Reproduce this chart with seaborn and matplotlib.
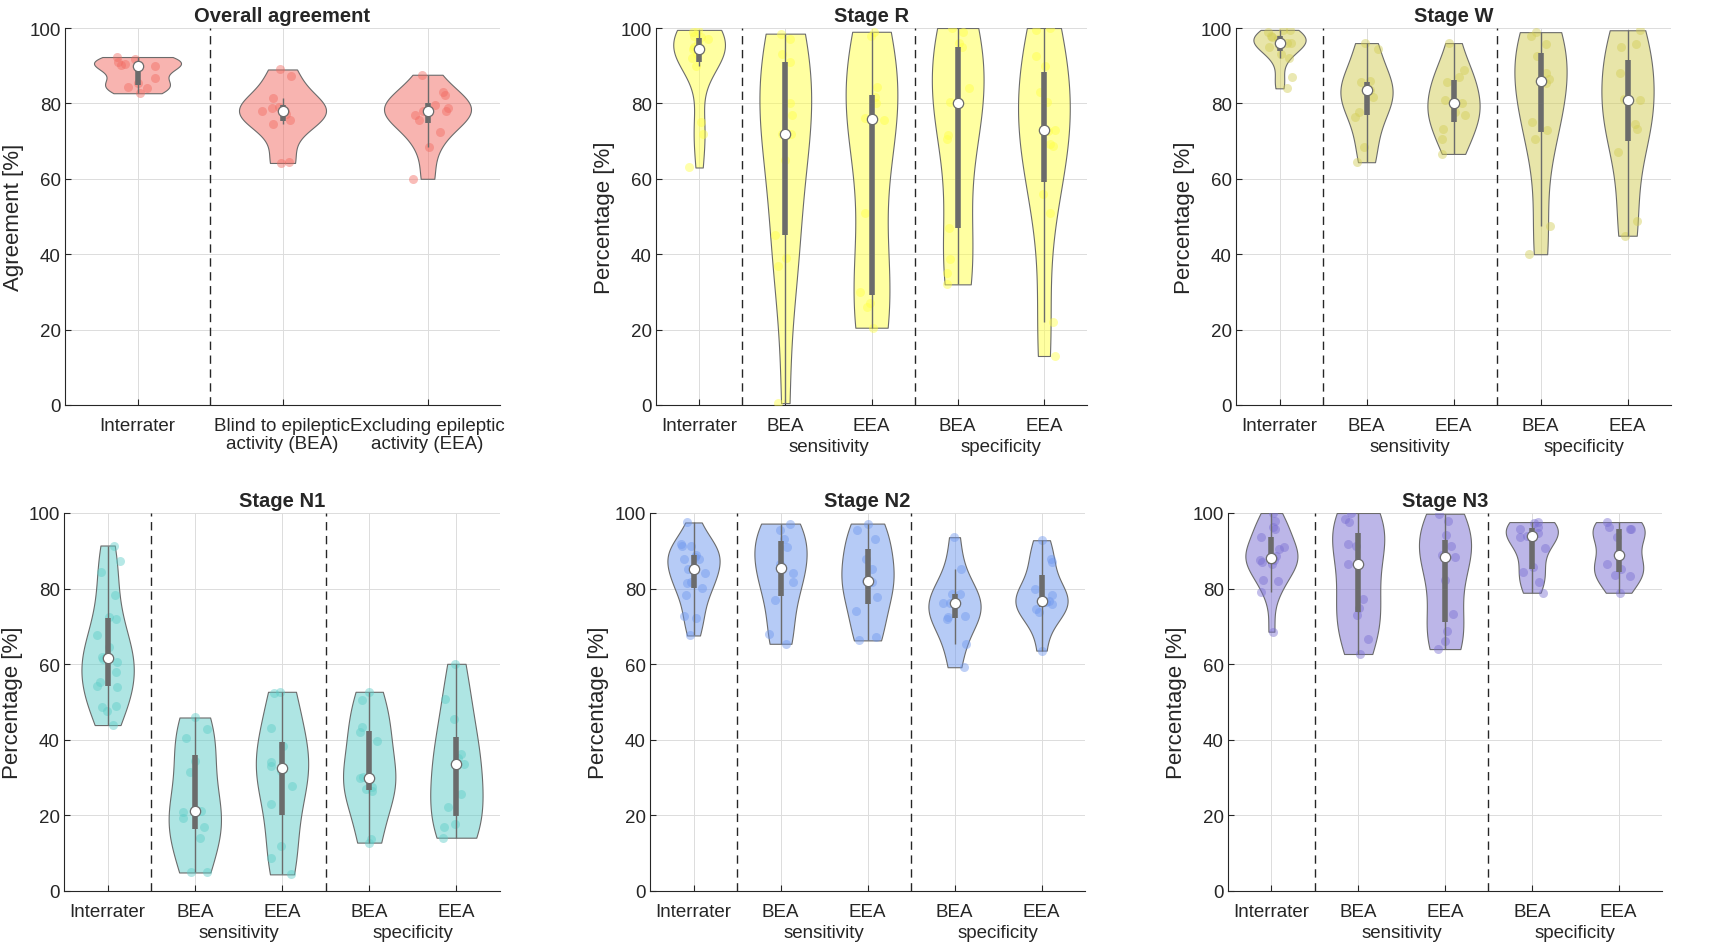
import matplotlib
matplotlib.use('Agg')
import matplotlib.pyplot as plt
import numpy as np
import pandas as pd
import seaborn as sns
from matplotlib.colors import to_rgba

sns.set_style('ticks')
plt.rcParams['font.family'] = ['Liberation Sans', 'DejaVu Sans']

# ---- data ----
overall_groups = ['Interrater', 'Blind to epileptic\nactivity (BEA)', 'Excluding epileptic\nactivity (EEA)']
stage_groups = ['Interrater', 'BEA sens', 'EEA sens', 'BEA spec', 'EEA spec']
stage_ticklabels = ['Interrater', 'BEA', 'EEA', 'BEA', 'EEA']
sub_labels = ['sensitivity', 'specificity']

overall_inter = [82.7, 84.0, 84.3, 85.5, 86.8, 89.8, 90.1, 90.5, 91.0, 91.8, 92.3]
overall_bea = [64.2, 64.4, 74.6, 75.5, 77.2, 78.0, 78.1, 78.8, 79.0, 81.5, 87.2, 89.0]
overall_eea = [60.0, 68.4, 72.4, 75.5, 76.8, 78.0, 78.1, 78.7, 79.6, 82.1, 83.0, 87.6]

r_inter = [63, 72, 75, 90, 92, 93, 94, 94.5, 95, 96, 97, 97.5, 98, 99, 99.5]
r_sens_bea = [0.5, 37, 39, 45, 65, 72, 72, 77, 80, 91, 93, 97, 98.5]
r_sens_eea = [20.5, 26, 27, 30, 51, 75.5, 76, 80, 81.6, 84.3, 98, 99]
r_spec_bea = [32, 35, 38.7, 47, 70.6, 71.5, 80, 80.5, 84, 95, 96, 99, 100]
r_spec_eea = [13, 22, 51, 56, 68.8, 69.3, 72.8, 73, 80.3, 83, 90, 92.7, 99.4, 100]

w_inter = [84, 87, 92, 93, 95, 95.5, 96, 96, 96.5, 97, 97.5, 98, 99, 99.5, 99.5]
w_sens_bea = [64.4, 68.4, 76.4, 77.7, 81.6, 83.5, 83.9, 85.6, 86, 94.5, 96]
w_sens_eea = [66.6, 70.6, 73.3, 76.8, 77.7, 80, 80.8, 85.6, 87, 88.8, 96]
w_spec_bea = [40, 47.6, 70.6, 73, 75, 85.5, 86.5, 88, 92.7, 95.8, 98, 98.9]
w_spec_eea = [44.9, 48.9, 67, 73.3, 74.6, 81, 81.2, 88, 95, 95.8, 99.4]

n1_inter = [43.9, 47.7, 48.6, 49, 53.9, 54.3, 55.2, 57.9, 60.5, 61.4, 61.8, 61.8,
            64.5, 67.6, 72, 72.4, 78.4, 84.4, 87.2, 91.4]
n1_sens_bea = [4.9, 4.9, 14.1, 17, 19.2, 21, 21.2, 31.4, 34.5, 40.5, 42.8, 45.9]
n1_sens_eea = [4.4, 8.8, 11.9, 23, 27.8, 31.8, 33.1, 34, 38.4, 43, 52.4, 52.7]
n1_spec_bea = [12.8, 13.7, 26.5, 26.9, 27.4, 29.8, 30.2, 39.8, 42, 43.3, 50.4, 52.7]
n1_spec_eea = [14.1, 16.8, 17.7, 22.1, 25.6, 33.6, 35.3, 36.2, 45.5, 50.8, 60.1]

n2_inter = [67.6, 72.3, 72.7, 78.4, 80.1, 81.4, 81.7, 84.2, 85.2, 87.9, 87.9, 88.3,
            89, 91.4, 91.4, 91.9, 97.5]
n2_sens_bea = [65.4, 68, 76.9, 81.7, 84.1, 86.6, 91, 93.2, 95.4, 97.2]
n2_sens_eea = [66.3, 67.1, 74.2, 77.7, 81.7, 82, 85.2, 87.9, 93.2, 95.4, 97.2]
n2_spec_bea = [59.2, 65.4, 71.9, 72.4, 72.8, 76.3, 76.3, 78.6, 78.6, 85.2, 93.6]
n2_spec_eea = [63.6, 73.8, 74.6, 75.9, 76.4, 76.7, 78.2, 80, 87, 87.9, 92.8]

n3_inter = [68.6, 79, 82.1, 82.2, 86.5, 87, 87.5, 87.5, 88.1, 88.6, 90.5, 90.9,
            93.7, 95.8, 96.3, 97.8, 100]
n3_sens_bea = [62.7, 66.7, 73, 74.8, 77.3, 86.5, 91.4, 91.8, 97.6, 98.3, 100]
n3_sens_eea = [64, 66.2, 68.9, 73.3, 82.2, 88.4, 89, 91.4, 94.1, 97.8, 99.8]
n3_spec_bea = [78.9, 81.7, 84.4, 85.6, 90.8, 93.7, 94, 94.6, 95.8, 96.3, 97.4, 97.6]
n3_spec_eea = [78.9, 83.4, 83.5, 85.2, 86.6, 89, 93.6, 95.8, 95.8, 96.3, 97.6]

GRAY = '#6b6b6b'
DARK = '#262626'


def violin_panel(ax, values, groups, ticklabels, color, title, ylabel, seps, subs=None):
    df = pd.DataFrame({
        'group': np.repeat(groups, [len(v) for v in values]),
        'value': np.concatenate(values),
    })
    sns.violinplot(data=df, x='group', y='value', order=groups, cut=0, inner=None,
                   density_norm='width', width=0.6, color=color, linecolor=GRAY,
                   linewidth=0.8, saturation=1, ax=ax)
    for c in ax.collections:
        c.set_facecolor(to_rgba(color, 0.5))
    n_coll = len(ax.collections)
    sns.stripplot(data=df, x='group', y='value', order=groups, jitter=0.15, size=6.5,
                  color=color, alpha=0.45, linewidth=0, ax=ax)
    for c in ax.collections[n_coll:]:
        c.set_zorder(3)

    # box: IQR bar, whiskers and median dot
    for i, v in enumerate(values):
        v = np.asarray(v)
        q1, med, q3 = np.percentile(v, [25, 50, 75])
        iqr = q3 - q1
        lo = v[v >= q1 - 1.5 * iqr].min()
        hi = v[v <= q3 + 1.5 * iqr].max()
        ax.vlines(i, lo, hi, color=GRAY, lw=1.0, zorder=4)
        ax.vlines(i, q1, q3, color=GRAY, lw=4, zorder=4)
        ax.scatter([i], [med], s=55, color='white', edgecolor=GRAY, lw=0.9, zorder=5)

    for s in seps:
        ax.axvline(s, color=DARK, lw=1.0, ls=(0, (6, 4)), zorder=2)

    ax.set_xlim(-0.5, len(groups) - 0.5)
    ax.set_ylim(0, 100)
    ax.set_yticks(np.arange(0, 101, 20))
    ax.set_xticks(range(len(groups)))
    ax.set_xticklabels(ticklabels, fontsize=13.5, color=DARK, linespacing=1.05)
    ax.tick_params(direction='in', length=4, width=0.8, color=DARK)
    ax.tick_params(axis='x', pad=9)
    ax.tick_params(axis='y', labelsize=13.5, labelcolor=DARK, pad=3)
    ax.grid(True, color='#dcdcdc', lw=0.7, zorder=0)
    ax.set_axisbelow(True)
    sns.despine(ax=ax)
    for sp in ('left', 'bottom'):
        ax.spines[sp].set_color(DARK)
        ax.spines[sp].set_linewidth(0.8)
    ax.set_xlabel('')
    ax.set_ylabel(ylabel, fontsize=16, color=DARK, labelpad=4)
    ax.set_title(title, fontsize=14.5, fontweight='bold', pad=5)

    if subs:
        for xpos, lab in zip([1.5, 3.5], subs):
            ax.annotate(lab, xy=(xpos, 0), xycoords=('data', 'axes fraction'),
                        xytext=(0, -30), textcoords='offset points',
                        ha='center', va='center', fontsize=13.5, color=DARK)


W, H = 1725, 945
fig = plt.figure(figsize=(W / 100, H / 100), dpi=100)


def add_ax(l, t, r, b):
    return fig.add_axes([l / W, 1 - b / H, (r - l) / W, (b - t) / H])


panels = [
    ((65, 29, 500, 406), [overall_inter, overall_bea, overall_eea], overall_groups,
     overall_groups, '#f26b62', 'Overall agreement', 'Agreement [%]', [0.5], None),
    ((656, 29, 1087, 406), [r_inter, r_sens_bea, r_sens_eea, r_spec_bea, r_spec_eea],
     stage_groups, stage_ticklabels, '#ffff45', 'Stage R', 'Percentage [%]', [0.5, 2.5], sub_labels),
    ((1236, 29, 1671, 406), [w_inter, w_sens_bea, w_sens_eea, w_spec_bea, w_spec_eea],
     stage_groups, stage_ticklabels, '#d2cd55', 'Stage W', 'Percentage [%]', [0.5, 2.5], sub_labels),
    ((64, 514, 500, 892), [n1_inter, n1_sens_bea, n1_sens_eea, n1_spec_bea, n1_spec_eea],
     stage_groups, stage_ticklabels, '#5ecdc8', 'Stage N1', 'Percentage [%]', [0.5, 2.5], sub_labels),
    ((650, 514, 1085, 892), [n2_inter, n2_sens_bea, n2_sens_eea, n2_spec_bea, n2_spec_eea],
     stage_groups, stage_ticklabels, '#6f98ee', 'Stage N2', 'Percentage [%]', [0.5, 2.5], sub_labels),
    ((1228, 514, 1662, 892), [n3_inter, n3_sens_bea, n3_sens_eea, n3_spec_bea, n3_spec_eea],
     stage_groups, stage_ticklabels, '#7a6fd2', 'Stage N3', 'Percentage [%]', [0.5, 2.5], sub_labels),
]

np.random.seed(3)
for box, vals, groups, ticks, col, title, ylab, seps, subs in panels:
    ax = add_ax(*box)
    violin_panel(ax, vals, groups, ticks, col, title, ylab, seps, subs)

fig.savefig('out.png', dpi=100, facecolor='white')
